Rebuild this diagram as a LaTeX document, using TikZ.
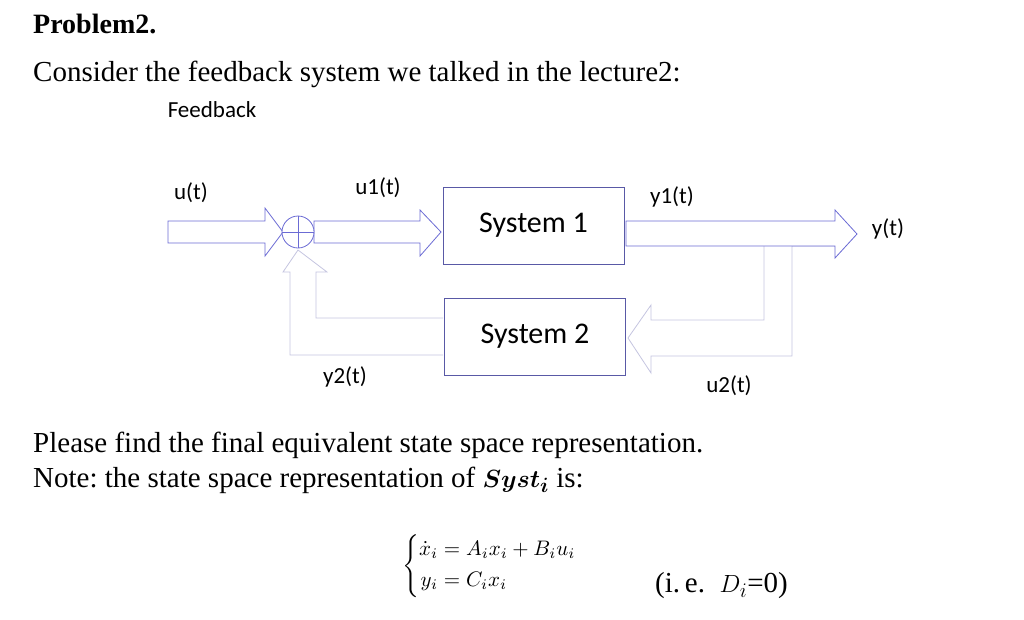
\documentclass[tikz,border=0pt]{standalone}
\usepackage{amsmath,bm,graphicx}
\usepackage{fontspec}
\setmainfont{Liberation Serif}
\newfontfamily\lab{Carlito}
\frenchspacing
\begin{document}
\begin{tikzpicture}[x=1pt,y=-1pt,
  blk/.style={draw=blue!55!gray!75,line width=0.8pt,fill=white},
  fb/.style={draw=blue!30!gray!35,line width=0.8pt,fill=white},
  box/.style={draw=gray!70!blue,line width=0.8pt,minimum width=181pt,minimum height=77pt,inner sep=0pt,font=\lab\fontsize{30}{32}\selectfont},
  sl/.style={font=\lab\fontsize{23}{25}\selectfont,inner sep=0pt},
  tx/.style={anchor=base west,inner sep=0pt,font=\fontsize{29}{32}\selectfont}]
\useasboundingbox (0,0) rectangle (1024,619);
% feedback arrows
\draw[fb] (835,246) -- (792,246) -- (792,356) -- (651,356) -- (651,373) -- (628,338) -- (651,305) -- (651,320) -- (764,320) -- (764,246);
\draw[fb] (443,318) -- (316,318) -- (316,272) -- (327,272) -- (298,250) -- (283,272) -- (290,272) -- (290,355) -- (443,355);
% forward arrows
\draw[blk] (168,221) -- (265,221) -- (265,208) -- (283,232) -- (265,256) -- (265,243) -- (168,243) -- cycle;
\draw[blk] (314,221) -- (420,221) -- (420,210) -- (441,232) -- (420,256) -- (420,243) -- (314,243) -- cycle;
\draw[blk] (626,221) -- (835,221) -- (835,210) -- (857,234) -- (835,258) -- (835,246) -- (626,246) -- cycle;
\node[blk,circle,minimum size=32pt,inner sep=0pt] (sum) at (298,232) {};
\draw[blk] (sum.north) -- (sum.south) (sum.west) -- (sum.east);
\node[box] (s1) at (533.5,225.5) {System 1};
\node[box] (s2) at (535,336.5) {System 2};
% labels
\node[sl] (lu) at (191,193) {u(t)};
\node[sl] (lu1) at (378,188) {u1(t)};
\node[sl] (ly1) at (672,197) {y1(t)};
\node[sl] (ly) at (888,229) {y(t)};
\node[sl] (ly2) at (345,377) {y2(t)};
\node[sl] (lu2) at (729,386) {u2(t)};
\node[sl] (fbk) at (212,110) {Feedback};
% text
\node[tx,font=\bfseries\fontsize{28}{32}\selectfont] (t0) at (33,33) {Problem2.};
\node[tx] (t1) at (33,81) {Consider the feedback system we talked in the lecture2:};
\node[tx] (t2) at (33,452) {Please find the final equivalent state space representation.};
\node[tx] (t3) at (33,487) {Note: the state space representation of $\bm{Syst_i}$ is:};
\node[inner sep=0pt] (eq) at (490,566) {\scalebox{2.1}{$\left\{\begin{aligned}\dot x_i&=A_ix_i+B_iu_i\\ y_i&=C_ix_i\end{aligned}\right.$}};
\node[tx] (t4) at (655,592) {(i.\,e. \ $D_i$=0)};
\end{tikzpicture}
\end{document}
